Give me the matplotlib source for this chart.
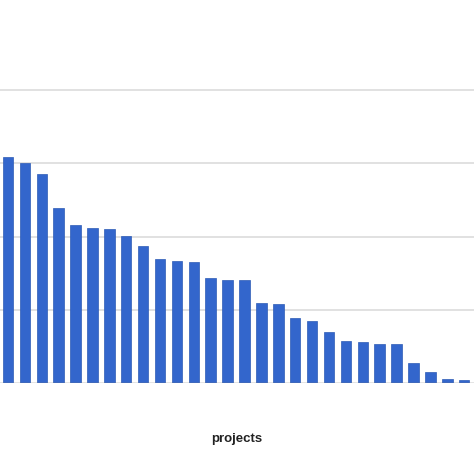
import matplotlib
matplotlib.use("Agg")
import matplotlib.pyplot as plt

projects = list(range(1, 29))
values = [3.09, 3.01, 2.86, 2.39, 2.155, 2.12, 2.11, 2.01, 1.88, 1.69, 1.67, 1.66,
          1.44, 1.41, 1.41, 1.095, 1.08, 0.89, 0.85, 0.695, 0.573, 0.563, 0.54, 0.54,
          0.27, 0.15, 0.06, 0.05]
gridlines = [1, 2, 3, 4]

fig = plt.figure(figsize=(4.74, 4.74), dpi=100)
ax = fig.add_axes([0, 0.1914, 1, 0.8086])
x = list(range(len(values)))
ax.bar(x, values, width=0.62, color="#3366cc", edgecolor="#2d5bb5", linewidth=0.5, zorder=3)
ax.set_xlim(-0.47, 27.58)
ax.set_ylim(0, 5.23)
for g in gridlines:
    ax.axhline(g, color="#dcdcdc", linewidth=1.2, zorder=1)
ax.axhline(0, color="#7a7a7a", linewidth=1.0, zorder=4)
for s in ax.spines.values():
    s.set_visible(False)
ax.set_xticks([])
ax.set_yticks([])
fig.text(0.5, 1 - 439 / 474, "projects", ha="center", va="center",
         fontsize=9.5, fontweight="bold", color="#222222", family="Liberation Sans")
fig.savefig("out.png", dpi=100)
